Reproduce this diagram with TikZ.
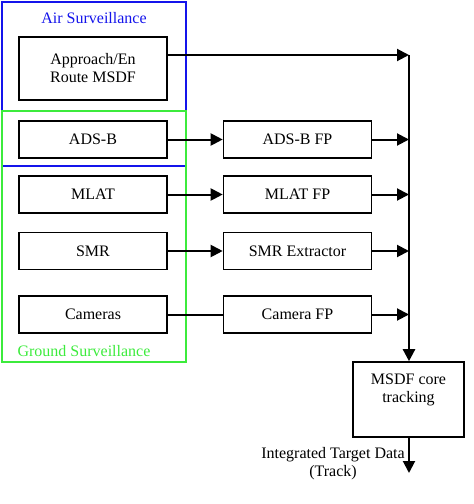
\documentclass[tikz,border=0pt]{standalone}
\usepackage{fontspec}
\setmainfont{Liberation Serif}
\usetikzlibrary{arrows.meta}
\definecolor{airblue}{RGB}{20,20,235}
\definecolor{gndgreen}{RGB}{60,235,60}
\begin{document}
\begin{tikzpicture}[x=1pt,y=-1pt,
  font=\fontsize{16}{18}\selectfont,
  box/.style={draw=black,line width=1.6pt,minimum width=148pt,inner sep=0pt,align=center},
  arr/.style={line width=2pt,-{Triangle[length=12pt,width=12pt]}},
  plain/.style={line width=2pt}]
\useasboundingbox (0,0) rectangle (474,504);
% group frames
\draw[airblue,line width=1.8pt] (2,2) rectangle (186,166);
\draw[gndgreen,line width=1.8pt] (2,111) rectangle (186,362);
\node[text=airblue] (airlbl) at (94,18) {Air Surveillance};
\node[text=gndgreen] (gndlbl) at (84,351) {Ground Surveillance};
% sources
\node[box,minimum height=63pt] (appr) at (93,68.5) {Approach/En\\Route MSDF};
\node[box,minimum height=37pt] (adsb) at (93,139.5) {ADS-B};
\node[box,minimum height=37pt] (mlat) at (93,194.5) {MLAT};
\node[box,minimum height=37pt] (smr) at (93,251) {SMR};
\node[box,minimum height=37pt] (cam) at (93,314.5) {Cameras};
% processors
\node[box,minimum height=37pt] (adsbfp) at (297.5,139.5) {ADS-B FP};
\node[box,minimum height=37pt] (mlatfp) at (297.5,194.5) {MLAT FP};
\node[box,minimum height=37pt] (smrx) at (297.5,251) {SMR Extractor};
\node[box,minimum height=37pt] (camfp) at (297.5,314.5) {Camera FP};
% core
\node[box,minimum width=111pt,minimum height=75pt] (core) at (408.5,399.5) {};
\node[align=center,inner sep=0pt] (coretxt) at (408.5,390) {MSDF core\\tracking};
% bus
\coordinate (bustop) at (409,55);
\coordinate (outend) at (409,473);
\node[align=center,inner sep=0pt] (outlbl) at (333,464) {Integrated Target Data\\(Track)};
% connectors
\draw[arr] (appr.east |- bustop) -- (bustop);
\draw[arr,line width=2.4pt] (bustop) -- (bustop |- core.north);
\draw[arr] (adsb) -- (adsbfp);
\draw[arr] (mlat) -- (mlatfp);
\draw[arr] (smr) -- (smrx);
\draw[plain] (cam) -- (camfp);
\draw[arr] (adsbfp.east) -- (adsbfp.east -| bustop);
\draw[arr] (mlatfp.east) -- (mlatfp.east -| bustop);
\draw[arr] (smrx.east) -- (smrx.east -| bustop);
\draw[arr] (camfp.east) -- (camfp.east -| bustop);
\draw[arr] (core.south -| outend) -- (outend);
\end{tikzpicture}
\end{document}
